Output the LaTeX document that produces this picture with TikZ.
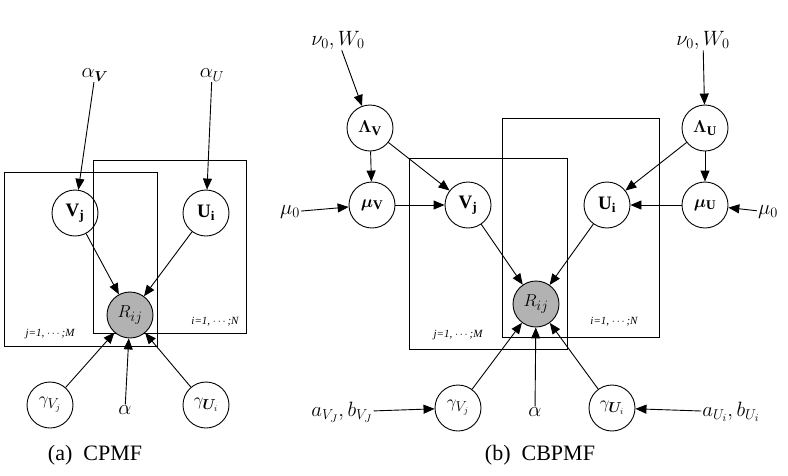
\documentclass[tikz,border=0pt]{standalone}
\usepackage{amsmath,bm}
\usepackage{fontspec}
\setmainfont{Liberation Serif}
\usetikzlibrary{arrows.meta}
\begin{document}
\begin{tikzpicture}[x=1pt,y=-1pt,
  rv/.style={circle,draw,line width=0.9pt,minimum size=46pt,inner sep=0pt,font=\fontsize{19}{22}\selectfont},
  obs/.style={rv,fill=black!30},
  lab/.style={inner sep=1pt,font=\fontsize{21}{24}\selectfont},
  plate/.style={draw,line width=0.9pt},
  pl/.style={font=\itshape\fontsize{11}{13}\selectfont},
  ar/.style={-{Triangle[length=11pt,width=9pt]},line width=0.9pt},
  capt/.style={font=\fontsize{22}{26}\selectfont}]
\useasboundingbox (0,0) rectangle (788,475);
% ---- (a)
\draw[plate] (4,172) rectangle (157,346);
\draw[plate] (93,160) rectangle (246,333);
\node[pl] (pa1) at (50,334) {j=1, $\cdots$;M};
\node[pl] (pa2) at (215,322) {i=1, $\cdots$;N};
\node[rv] (aV) at (75,213) {$\mathbf{V_j}$};
\node[rv] (aU) at (206,213) {$\mathbf{U_i}$};
\node[obs] (aR) at (130,315) {$R_{ij}$};
\node[rv] (agV) at (50,405) {$\gamma_{V_j}$};
\node[rv] (agU) at (206,405) {$\gamma_{\bm{U}_i}$};
\node[lab] (aal) at (125,410) {$\alpha$};
\node[lab] (aaV) at (95,75) {$\alpha_{\bm V}$};
\node[lab] (aaU) at (212,75) {$\alpha_{U}$};
\draw[ar] (aaV) -- (aV);
\draw[ar] (aaU) -- (aU);
\draw[ar] (aV) -- (aR);
\draw[ar] (aU) -- (aR);
\draw[ar] (agV) -- (aR);
\draw[ar] (agU) -- (aR);
\draw[ar] (aal) -- (aR);
\node[capt] (ca) at (95,455) {(a)\ \ CPMF};
% ---- (b)
\draw[plate] (409,158) rectangle (567,349);
\draw[plate] (502,118) rectangle (659,337);
\node[pl] (pb1) at (458,335) {j=1, $\cdots$;M};
\node[pl] (pb2) at (614,322) {i=1, $\cdots$;N};
\node[lab] (nl) at (338,40) {$\nu_0, W_0$};
\node[lab] (nr) at (703,40) {$\nu_0, W_0$};
\node[rv] (LV) at (370,128) {$\bm{\Lambda}_{\mathbf V}$};
\node[rv] (LU) at (705,128) {$\bm{\Lambda}_{\mathbf U}$};
\node[rv] (mV) at (372,205) {$\bm{\mu}_{\mathbf V}$};
\node[rv] (mU) at (705,205) {$\bm{\mu}_{\mathbf U}$};
\node[rv] (bV) at (468,205) {$\mathbf{V_j}$};
\node[rv] (bU) at (607,205) {$\mathbf{U_i}$};
\node[lab] (m0l) at (290,212) {$\mu_0$};
\node[lab] (m0r) at (768,212) {$\mu_0$};
\node[obs] (bR) at (536,304) {$R_{ij}$};
\node[rv] (bgV) at (458,408) {$\gamma_{V_j}$};
\node[rv] (bgU) at (612,408) {$\gamma_{\bm{U}_i}$};
\node[lab] (bal) at (535,412) {$\alpha$};
\node[lab] (abV) at (342,412) {$a_{V_J}, b_{V_J}$};
\node[lab] (abU) at (731,412) {$a_{U_i}, b_{U_i}$};
\draw[ar] (nl) -- (LV);
\draw[ar] (nr) -- (LU);
\draw[ar] (LV) -- (mV);
\draw[ar] (LU) -- (mU);
\draw[ar] (LV) -- (bV);
\draw[ar] (LU) -- (bU);
\draw[ar] (m0l) -- (mV);
\draw[ar] (m0r) -- (mU);
\draw[ar] (mV) -- (bV);
\draw[ar] (mU) -- (bU);
\draw[ar] (bV) -- (bR);
\draw[ar] (bU) -- (bR);
\draw[ar] (bgV) -- (bR);
\draw[ar] (bgU) -- (bR);
\draw[ar] (bal) -- (bR);
\draw[ar] (abV) -- (bgV);
\draw[ar] (abU) -- (bgU);
\node[capt] (cb) at (540,455) {(b)\ \ CBPMF};
\end{tikzpicture}
\end{document}
